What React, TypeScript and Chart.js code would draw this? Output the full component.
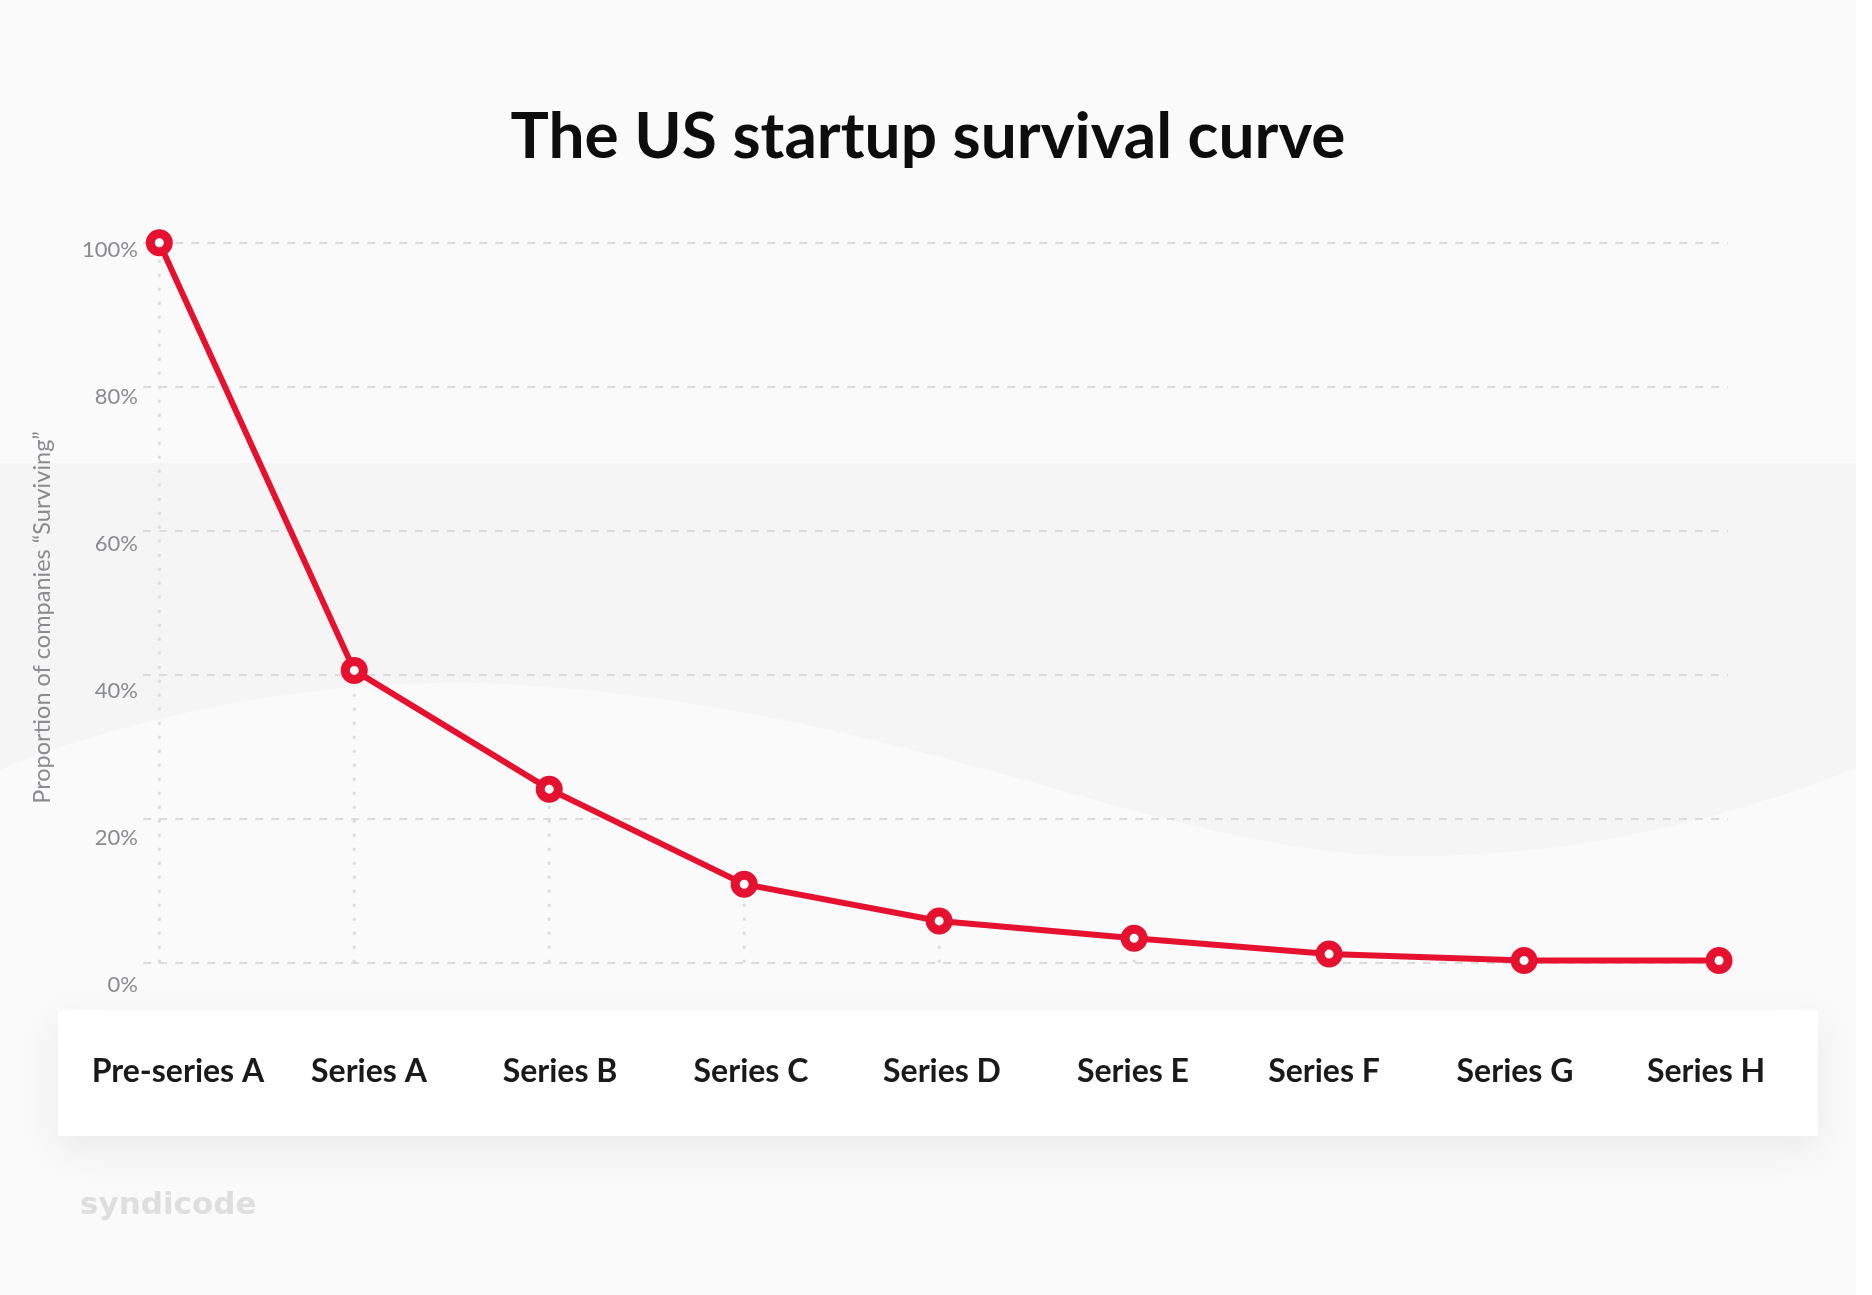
import React, { useEffect, useRef } from "react";
import { Chart, registerables } from "chart.js";

Chart.register(...registerables);

// Funding stages and share of US startups still "surviving" at each stage (%)
const STAGES = [
  "Pre-series A",
  "Series A",
  "Series B",
  "Series C",
  "Series D",
  "Series E",
  "Series F",
  "Series G",
  "Series H",
];
const SURVIVAL = [100, 40.6, 24.1, 10.9, 5.8, 3.4, 1.2, 0.3, 0.3];
const Y_TICKS = [0, 20, 40, 60, 80, 100];

const TITLE = "The US startup survival curve";
const Y_TITLE = "Proportion of companies \u201cSurviving\u201d";
const BRAND = "syndicode";

const W = 1872;
const H = 1295;
const RED = "#e5112f";
const GRID = "#dcdcdc";
const MUTED = "#8a8b8e";

// Page backdrop: soft grey wave band, white label panel and brand mark
const backdrop = {
  id: "backdrop",
  beforeDraw(chart: any) {
    const { ctx } = chart;
    ctx.save();
    ctx.fillStyle = "#ffffff";
    ctx.fillRect(0, 0, W, H);
    ctx.fillStyle = "#fafafa";
    ctx.fillRect(0, 0, 1856, H);

    ctx.fillStyle = "#f5f5f5";
    ctx.beginPath();
    ctx.moveTo(0, 463);
    ctx.lineTo(1856, 463);
    ctx.lineTo(1856, 768);
    ctx.bezierCurveTo(1700, 830, 1550, 858, 1400, 856);
    ctx.bezierCurveTo(1150, 852, 900, 700, 480, 683);
    ctx.bezierCurveTo(300, 680, 120, 720, 0, 770);
    ctx.closePath();
    ctx.fill();

    ctx.shadowColor = "rgba(0,0,0,0.07)";
    ctx.shadowBlur = 40;
    ctx.shadowOffsetY = 12;
    ctx.fillStyle = "#ffffff";
    ctx.fillRect(58, 1010, 1760, 126);
    ctx.restore();

    ctx.save();
    ctx.fillStyle = "#dedede";
    ctx.font = "bold 31px 'DejaVu Sans'";
    ctx.textBaseline = "alphabetic";
    ctx.textAlign = "left";
    ctx.fillText(BRAND, 80, 1214);
    ctx.restore();
  },
};

export default function App() {
  const canvasRef = useRef<HTMLCanvasElement | null>(null);

  useEffect(() => {
    document.body.style.margin = "0";
    document.body.style.background = "#ffffff";
    const canvas = canvasRef.current;
    if (!canvas) return;

    const points = STAGES.map((_, i) => ({ x: i, y: SURVIVAL[i] }));
    const dropLines = STAGES.map((_, i) => ({
      data: [
        { x: i, y: 0 },
        { x: i, y: SURVIVAL[i] },
      ],
      xAxisID: "x",
      yAxisID: "y",
      borderColor: GRID,
      borderWidth: 3,
      borderDash: [3, 11],
      borderCapStyle: "butt",
      pointRadius: 0,
      tension: 0,
    }));

    const chart = new Chart(canvas, {
      type: "line",
      data: {
        datasets: [
          {
            data: points,
            xAxisID: "x",
            yAxisID: "y",
            borderColor: RED,
            borderWidth: 6,
            pointRadius: 9,
            pointBorderWidth: 9,
            pointBackgroundColor: "#ffffff",
            pointBorderColor: RED,
            tension: 0,
            clip: false,
          },
          ...dropLines,
        ] as any,
      },
      options: {
        responsive: false,
        animation: false,
        events: [],
        layout: { padding: { left: 0, right: 16, top: 0, bottom: 0 } },
        plugins: {
          legend: { display: false },
          tooltip: { enabled: false },
          title: {
            display: true,
            text: TITLE,
            color: "#0d0d0d",
            font: { family: "Lato", size: 64, weight: "bold", lineHeight: 1.2 },
            padding: { top: 98.5, bottom: 67.4 },
          },
        },
        scales: {
          x: {
            type: "linear",
            display: false,
            min: -0.0836,
            max: 8.046,
          },
          xl: {
            type: "linear",
            position: "bottom",
            min: -0.183,
            max: 8.115,
            afterBuildTicks: (s: any) => {
              s.ticks = STAGES.map((_, i) => ({ value: i }));
            },
            afterFit: (s: any) => {
              s.height = H - 962.7;
              s.paddingLeft = 0;
              s.paddingRight = 0;
            },
            grid: { display: false, drawTicks: false },
            border: { display: false },
            ticks: {
              autoSkip: false,
              maxRotation: 0,
              minRotation: 0,
              padding: 90,
              color: "#1a1a1a",
              font: { family: "Lato", size: 32, weight: "bold" },
              callback: (v: any) => STAGES[v as number],
            },
          },
          // value axis: carries the dashed grid only
          y: {
            type: "linear",
            position: "left",
            min: 0,
            max: 100,
            afterBuildTicks: (s: any) => {
              s.ticks = Y_TICKS.map((v) => ({ value: v }));
            },
            afterFit: (s: any) => {
              s.width = 0;
              s.paddingTop = 0;
              s.paddingBottom = 0;
            },
            grid: { color: GRID, lineWidth: 2, drawTicks: false },
            border: { display: false, dash: [8, 8] },
            ticks: { display: false },
          },
          // label axis: percentage labels spaced a little wider than the grid
          yl: {
            type: "linear",
            position: "left",
            min: 3.0,
            max: 101.0,
            afterBuildTicks: (s: any) => {
              s.ticks = Y_TICKS.map((v) => ({ value: v }));
            },
            afterFit: (s: any) => {
              s.width = 143;
              s.paddingTop = 0;
              s.paddingBottom = 0;
            },
            grid: { display: false, drawTicks: false },
            border: { display: false },
            ticks: {
              autoSkip: false,
              color: MUTED,
              padding: 5,
              font: { family: "Lato", size: 22 },
              callback: (v: any) => `${v}%`,
            },
            title: {
              display: true,
              // trailing spaces nudge the rotated caption toward the baseline
              text: Y_TITLE + "\u2003\u2002",
              color: MUTED,
              font: { family: "Lato", size: 23.5, lineHeight: 1.2 },
              padding: { top: 28, bottom: 0 },
            },
          },
          // spacer on the right edge of the plot
          yr: {
            type: "linear",
            position: "right",
            afterFit: (s: any) => {
              s.width = 128;
              s.paddingTop = 0;
              s.paddingBottom = 0;
            },
            grid: { display: false, drawTicks: false },
            border: { display: false },
            ticks: { display: false },
          },
        },
      },
      plugins: [backdrop],
    });

    return () => chart.destroy();
  }, []);

  return (
    <div style={{ width: W, height: H }}>
      <canvas ref={canvasRef} width={W} height={H} style={{ display: "block" }} />
    </div>
  );
}
